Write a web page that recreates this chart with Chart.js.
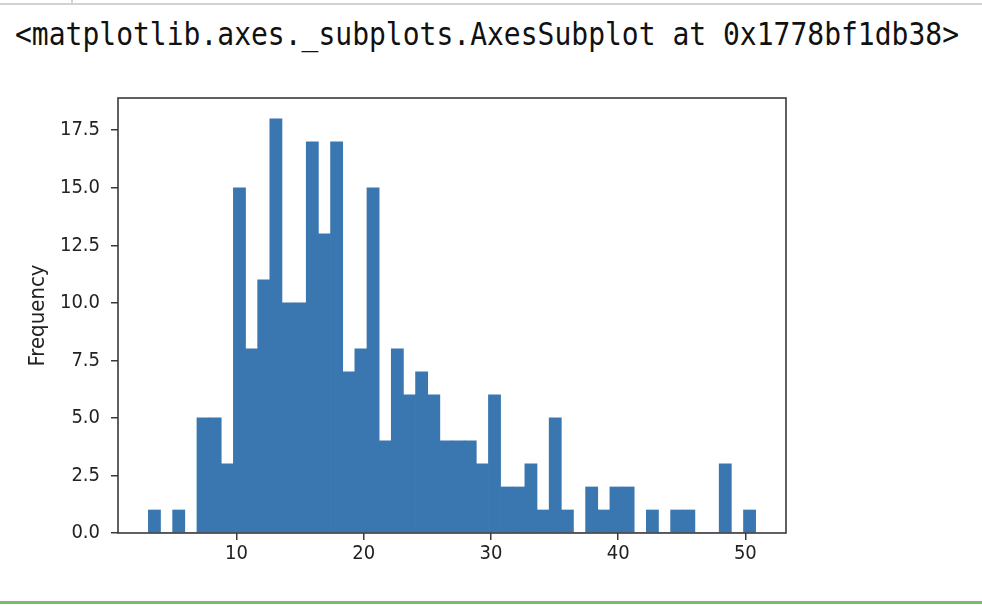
<!DOCTYPE html>
<html>
<head>
<meta charset="utf-8">
<script src="https://cdn.jsdelivr.net/npm/chart.js@4.4.0/dist/chart.umd.min.js"></script>
<style>
  html, body { margin: 0; padding: 0; background: #ffffff; }
  body { width: 982px; height: 606px; position: relative; overflow: hidden; }
  #topbox { position: absolute; left: 0; top: 0; width: 982px; height: 3px; border-bottom: 2px solid #d2d2d2; }
  #topdiv { position: absolute; left: 71px; top: 0; width: 2px; height: 4px; background: #d2d2d2; }
  #out { position: absolute; left: 15px; top: 22px; font-family: "DejaVu Sans Mono", monospace; font-size: 28px;
         line-height: 28px; color: #111; white-space: pre; transform: scaleY(1.12); transform-origin: 0 24px; }
  #green { position: absolute; left: 0; top: 601px; width: 982px; height: 3px; background: #7dba6f; }
  #wrap { position: absolute; left: 0; top: 0; width: 982px; height: 606px; }
</style>
</head>
<body>
<div id="topbox"></div>
<div id="topdiv"></div>
<div id="out">&lt;matplotlib.axes._subplots.AxesSubplot at 0x1778bf1db38&gt;</div>
<div id="wrap"><canvas id="c" width="982" height="606"></canvas></div>
<div id="green"></div>
<script>
// Histogram definition (50 bins between data min and max)
const binMin = 3.07;
const binMax = 50.81;
const binCount = 50;
// Frequencies, left to right
const frequencies = [1, 0, 1, 0, 5, 5, 3, 15, 8, 11,
                     18, 10, 10, 17, 13, 17, 7, 8, 15, 4,
                     8, 6, 7, 6, 4, 4, 4, 3, 6, 2,
                     2, 3, 1, 5, 1, 0, 2, 1, 2, 2,
                     0, 1, 0, 1, 1, 0, 0, 3, 0, 1];
const xTicks = [10, 20, 30, 40, 50];
const yTicks = [0, 2.5, 5, 7.5, 10, 12.5, 15, 17.5];
const yLabel = "Frequency";

const binWidth = (binMax - binMin) / binCount;
const margin = (binMax - binMin) * 0.05;
const points = frequencies.map((f, i) => ({ x: binMin + binWidth * (i + 0.5), y: f }));
const yMax = Math.max(...frequencies) * 1.05;

const framePlugin = {
  id: 'frame',
  afterDraw(chart) {
    const a = chart.chartArea, ctx = chart.ctx;
    ctx.save();
    ctx.strokeStyle = '#3a3a3a';
    ctx.lineWidth = 1.6;
    ctx.strokeRect(a.left, a.top, a.right - a.left, a.bottom - a.top);
    ctx.restore();
  }
};

const tickFont = { family: '"DejaVu Sans Condensed", "DejaVu Sans", sans-serif', size: 20 };

new Chart(document.getElementById('c'), {
  type: 'bar',
  data: {
    datasets: [{
      data: points,
      backgroundColor: '#3a76af',
      borderWidth: 0,
      barPercentage: 1,
      categoryPercentage: 1,
      grouped: false
    }]
  },
  options: {
    responsive: false,
    animation: false,
    events: [],
    layout: { padding: { left: 0, top: 98, right: 196, bottom: 0 } },
    plugins: { legend: { display: false }, tooltip: { enabled: false } },
    scales: {
      x: {
        type: 'linear',
        min: binMin - margin,
        max: binMax + margin,
        offset: false,
        afterBuildTicks: s => { s.ticks = xTicks.map(v => ({ value: v })); },
        afterFit: s => { s.height = 73; },
        grid: { display: true, drawOnChartArea: false, drawTicks: true, tickLength: 7, color: '#3a3a3a', lineWidth: 1.5, offset: false },
        border: { display: false },
        ticks: { font: tickFont, color: '#222', padding: 2, maxRotation: 0, autoSkip: false, callback: v => String(v) }
      },
      y: {
        type: 'linear',
        min: 0,
        max: yMax,
        afterBuildTicks: s => { s.ticks = yTicks.map(v => ({ value: v })); },
        afterFit: s => { s.width = 118; },
        grid: { display: true, drawOnChartArea: false, drawTicks: true, tickLength: 7, color: '#3a3a3a', lineWidth: 1.5 },
        border: { display: false },
        ticks: { font: tickFont, color: '#222', padding: 11, autoSkip: false, callback: v => v.toFixed(1) },
        title: { display: true, text: yLabel, color: '#222', font: { family: '"DejaVu Sans Condensed", "DejaVu Sans", sans-serif', size: 22 }, padding: { top: 25, bottom: 0 } }
      }
    }
  },
  plugins: [framePlugin]
});
</script>
</body>
</html>
